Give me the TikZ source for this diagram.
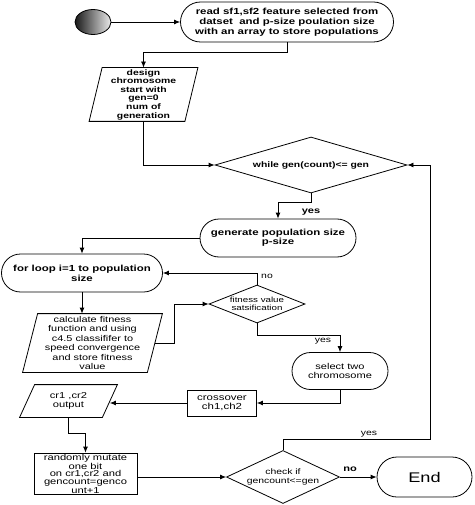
\documentclass[tikz,border=0pt]{standalone}
\usepackage{fontspec}
\newfontfamily\wf[FakeStretch=1.3]{Liberation Sans}
\usetikzlibrary{shapes.geometric,shapes.misc,arrows.meta,calc}
\begin{document}
\begin{tikzpicture}[x=1pt,y=-1pt,
  line width=0.8pt,
  arr/.style={-{Latex[length=6pt,width=5pt]}},
  base/.style={align=center,inner sep=0pt,font=\wf},
  stad/.style={base,draw,rounded rectangle},
  box/.style={base,draw,rectangle},
  para/.style={base,rectangle},
  dia/.style={base,draw,diamond},
  lbl/.style={inner sep=0pt,font=\wf\fontsize{8}{9}\selectfont},
  bl/.style={inner sep=0pt,font=\wf\bfseries\fontsize{8.5}{9}\selectfont}
]
\useasboundingbox (0,0) rectangle (474,505);

% start
\node[draw,ellipse,minimum width=36pt,minimum height=25pt,shading=axis,left color=black!90,right color=white!92!black] (start) at (93,22) {};

\node[stad,minimum width=213pt,minimum height=40pt,font=\wf\bfseries\fontsize{8.8}{10}\selectfont] (read) at (287,22)
 {read sf1,sf2 feature selected from\\datset\ \ and p-size poulation size\\with an array to store populations};

\node[para,minimum width=95pt,minimum height=53pt,font=\wf\bfseries\fontsize{8}{8.6}\selectfont] (design) at (143.5,94.5)
 {design\\chromosome\\start with\\gen=0\\num of\\generation};
\draw ([xshift=6.5pt]design.north west) -- ([xshift=6.5pt]design.north east) -- ([xshift=-6.5pt]design.south east) -- ([xshift=-6.5pt]design.south west) -- cycle;

\node[dia,minimum width=192pt,minimum height=56pt,aspect=3.4,font=\wf\bfseries\fontsize{8}{9}\selectfont] (while) at (311,165)
 {while gen(count)<= gen};

\node[stad,minimum width=156pt,minimum height=38pt,font=\wf\bfseries\fontsize{8.8}{9}\selectfont] (gen) at (278,238)
 {generate population size\\p-size};

\node[stad,minimum width=161pt,minimum height=38pt,font=\wf\bfseries\fontsize{8.8}{10}\selectfont] (loop) at (82,273)
 {for loop i=1 to population\\size};

\node[dia,minimum width=96pt,minimum height=38pt,aspect=2.5,font=\wf\fontsize{7.5}{7.7}\selectfont] (fit) at (257,304)
 {fitness value\\satsification};

\node[para,minimum width=124pt,minimum height=58pt,font=\wf\fontsize{8.4}{9.5}\selectfont] (calc) at (92.5,343)
 {calculate fitness\\function and using\\c4.5 classififer to\\speed convergence\\and store fitness\\value};
\draw ([xshift=7.5pt]calc.north west) -- ([xshift=7.5pt]calc.north east) -- ([xshift=-7.5pt]calc.south east) -- ([xshift=-7.5pt]calc.south west) -- cycle;

\node[stad,minimum width=96pt,minimum height=37pt,font=\wf\fontsize{8.5}{9}\selectfont] (sel) at (340,371)
 {select two\\chromosome};

\node[box,minimum width=69pt,minimum height=26pt,font=\wf\fontsize{8.8}{8.5}\selectfont] (cross) at (222,403)
 {crossover\\ch1,ch2};

\node[para,minimum width=82pt,minimum height=32pt,font=\wf\fontsize{8.6}{8.5}\selectfont] (cr) at (68.5,401)
 {cr1 ,cr2\\output};
\draw ([xshift=7.5pt]cr.north west) -- ([xshift=7.5pt]cr.north east) -- ([xshift=-7.5pt]cr.south east) -- ([xshift=-7.5pt]cr.south west) -- cycle;

\node[box,minimum width=103pt,minimum height=41pt,font=\wf\fontsize{8.6}{7.6}\selectfont] (mut) at (85.5,473.5)
 {randomly mutate\\one bit\\on cr1,cr2 and\\gencount=genco\\unt+1};

\node[dia,minimum width=113pt,minimum height=53pt,aspect=2.1,font=\wf\fontsize{8}{9}\selectfont] (chk) at (283,477)
 {check if\\gencount<=gen};

\node[stad,minimum width=95pt,minimum height=40pt,font=\wf\fontsize{14}{16}\selectfont] (end) at (424.5,477) {End};

% connectors
\draw[arr] (start.east) -- (read.west);
\draw[arr] (read.south) -- ++(0,10) -| (design.north);
\draw[arr] (design.south) |- (while.west);
\draw[arr] (while.south) -- ++(0,9) -| (gen.north);
\node[bl] (y1) at (311,212) {yes};
\draw[arr] (gen.west) -| (loop.north);
\draw[arr] (loop.south) -- (loop.south |- calc.north);
\draw[arr] (calc.east) -- ++(19,0) |- (fit.west);
\draw[arr] (fit.north) |- (loop.east);
\node[lbl] (n1) at (267,276) {no};
\draw[arr] (fit.south) -- ++(0,12) -| (sel.north);
\node[lbl] (y2) at (323,341) {yes};
\draw[arr] (sel.south) |- (cross.east);
\draw[arr] (cross.west) -- (cross.west -| cr.east);
\draw[arr] (cr.south) -- ++(0,16) -| (mut.north);
\draw[arr] (mut.east |- chk.west) -- (chk.west);
\draw[arr] (chk.east) -- (end.west);
\node[bl] (n2) at (350,469) {no};
\coordinate (back) at (430,439);
\draw[arr] (chk.north) |- (back) |- (while.east);
\node[lbl] (y3) at (369,434) {yes};
\end{tikzpicture}
\end{document}
